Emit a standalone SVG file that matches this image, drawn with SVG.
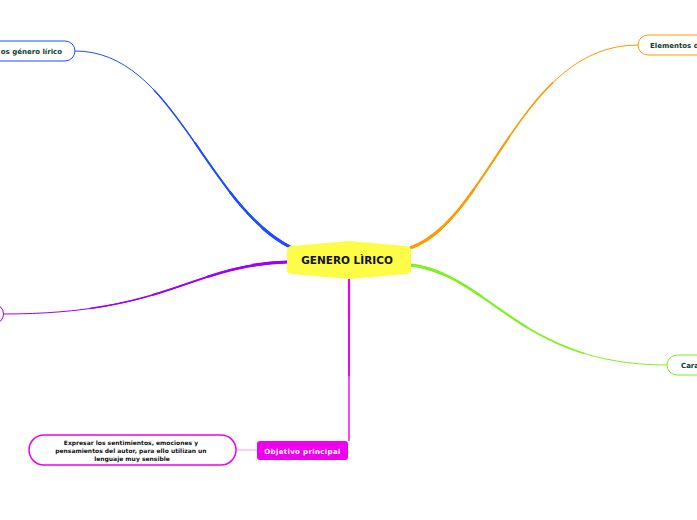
<svg xmlns="http://www.w3.org/2000/svg" width="697" height="520" viewBox="0 0 697 520">
<style>
.t{font-family:"DejaVu Sans","Liberation Sans",sans-serif;font-weight:bold}
.c path{fill:none;stroke-linecap:butt}
.w1{stroke-width:1}
.w2{stroke-width:1.5;stroke-dasharray:0 30 100}
.w3{stroke-width:2;stroke-dasharray:0 52 100}
.w4{stroke-width:2.5;stroke-dasharray:0 72 100}
.w5{stroke-width:3;stroke-dasharray:0 88 100}
.pill{fill:#fff}
</style>
<defs>
  <path id="pb" d="M75,51 C175,51 205,205 292,248"/>
  <path id="po" d="M638,45 C520,45 490,220 410,248"/>
  <path id="pg" d="M667,365 C520,365 490,275 411,265"/>
  <path id="pp" d="M3,314 C170,314 190,265 287,262"/>
</defs>
<rect width="697" height="520" fill="#fff"/>
<g id="connectors">
  <g stroke="#1f4cff" class="c">
    <path class="w1" pathLength="100" d="M75,51 C175,51 205,205 292,248"/>
    <path class="w2" pathLength="100" d="M75,51 C175,51 205,205 292,248"/>
    <path class="w3" pathLength="100" d="M75,51 C175,51 205,205 292,248"/>
    <path class="w4" pathLength="100" d="M75,51 C175,51 205,205 292,248"/>
    <path class="w5" pathLength="100" d="M75,51 C175,51 205,205 292,248"/>
  </g>
  <g stroke="#ff9a00" class="c">
    <path class="w1" pathLength="100" d="M638,45 C520,45 490,220 410,248"/>
    <path class="w2" pathLength="100" d="M638,45 C520,45 490,220 410,248"/>
    <path class="w3" pathLength="100" d="M638,45 C520,45 490,220 410,248"/>
    <path class="w4" pathLength="100" d="M638,45 C520,45 490,220 410,248"/>
    <path class="w5" pathLength="100" d="M638,45 C520,45 490,220 410,248"/>
  </g>
  <g stroke="#80f020" class="c">
    <path class="w1" pathLength="100" d="M667,365 C520,365 490,275 411,265"/>
    <path class="w2" pathLength="100" d="M667,365 C520,365 490,275 411,265"/>
    <path class="w3" pathLength="100" d="M667,365 C520,365 490,275 411,265"/>
    <path class="w4" pathLength="100" d="M667,365 C520,365 490,275 411,265"/>
    <path class="w5" pathLength="100" d="M667,365 C520,365 490,275 411,265"/>
  </g>
  <g stroke="#9a00ff" class="c">
    <path class="w1" pathLength="100" d="M3,314 C170,314 190,265 287,262"/>
    <path class="w2" pathLength="100" d="M3,314 C170,314 190,265 287,262"/>
    <path class="w3" pathLength="100" d="M3,314 C170,314 190,265 287,262"/>
    <path class="w4" pathLength="100" d="M3,314 C170,314 190,265 287,262"/>
    <path class="w5" pathLength="100" d="M3,314 C170,314 190,265 287,262"/>
  </g>
  <g stroke="#ee00ee" class="c">
    <path stroke-width="1.4" d="M349,441 L349,279"/>
    <path stroke-width="1.8" pathLength="100" stroke-dasharray="0 40 100" d="M349,441 L349,279"/>
    <path stroke-width="2.2" pathLength="100" stroke-dasharray="0 75 100" d="M349,441 L349,279"/>
  </g>
  <path d="M236,450 L257,450" stroke="#f0a0f0" stroke-width="1" fill="none"/>
</g>
<g id="center">
  <path d="M292,246 L349,241 L406,246 Q411,246 411,251 L411,270 Q411,274 406,274 L349,279 L292,274 Q287,274 287,270 L287,251 Q287,246 292,246 Z" fill="#fdfd48"/>
  <text class="t" x="347" y="264" font-size="10.5" text-anchor="middle" fill="#111">GENERO LÌRICO</text>
</g>
<g id="node-tipos">
  <rect class="pill" x="-60" y="41" width="135" height="20" rx="10" stroke="#1f4cff" stroke-width="1"/>
  <text class="t" x="62" y="54" font-size="7" text-anchor="end" fill="#0b3d2c">os género lírico</text>
</g>
<g id="node-elementos">
  <rect class="pill" x="638" y="35" width="130" height="20" rx="10" stroke="#ff9a00" stroke-width="1"/>
  <text class="t" x="650" y="48" font-size="7" fill="#0b3d2c">Elementos d</text>
</g>
<g id="node-caracteristicas">
  <rect class="pill" x="667" y="355" width="130" height="20" rx="10" stroke="#80f020" stroke-width="1"/>
  <text class="t" x="681" y="368" font-size="7" fill="#0b3d2c">Cara</text>
</g>
<g id="node-purple">
  <rect class="pill" x="-130" y="304" width="133.5" height="20" rx="10" stroke="#9a00ff" stroke-width="1"/>
</g>
<g id="node-objetivo">
  <rect x="257" y="441" width="91" height="19" rx="3" fill="#ee00ee"/>
  <text class="t" x="302.5" y="453.5" font-size="7" letter-spacing="0.35" text-anchor="middle" fill="#fff">Objetivo principal</text>
</g>
<g id="node-expresar">
  <rect class="pill" x="29" y="435" width="207" height="30" rx="15" stroke="#ee00ee" stroke-width="1.5"/>
  <text class="t" font-size="6" text-anchor="middle" fill="#111">
    <tspan x="132" y="444.5">Expresar los sentimientos, emociones y</tspan>
    <tspan x="132" y="452.7">pensamientos del autor, para ello utilizan un</tspan>
    <tspan x="132" y="460.7">lenguaje muy sensible</tspan>
  </text>
</g>
</svg>
